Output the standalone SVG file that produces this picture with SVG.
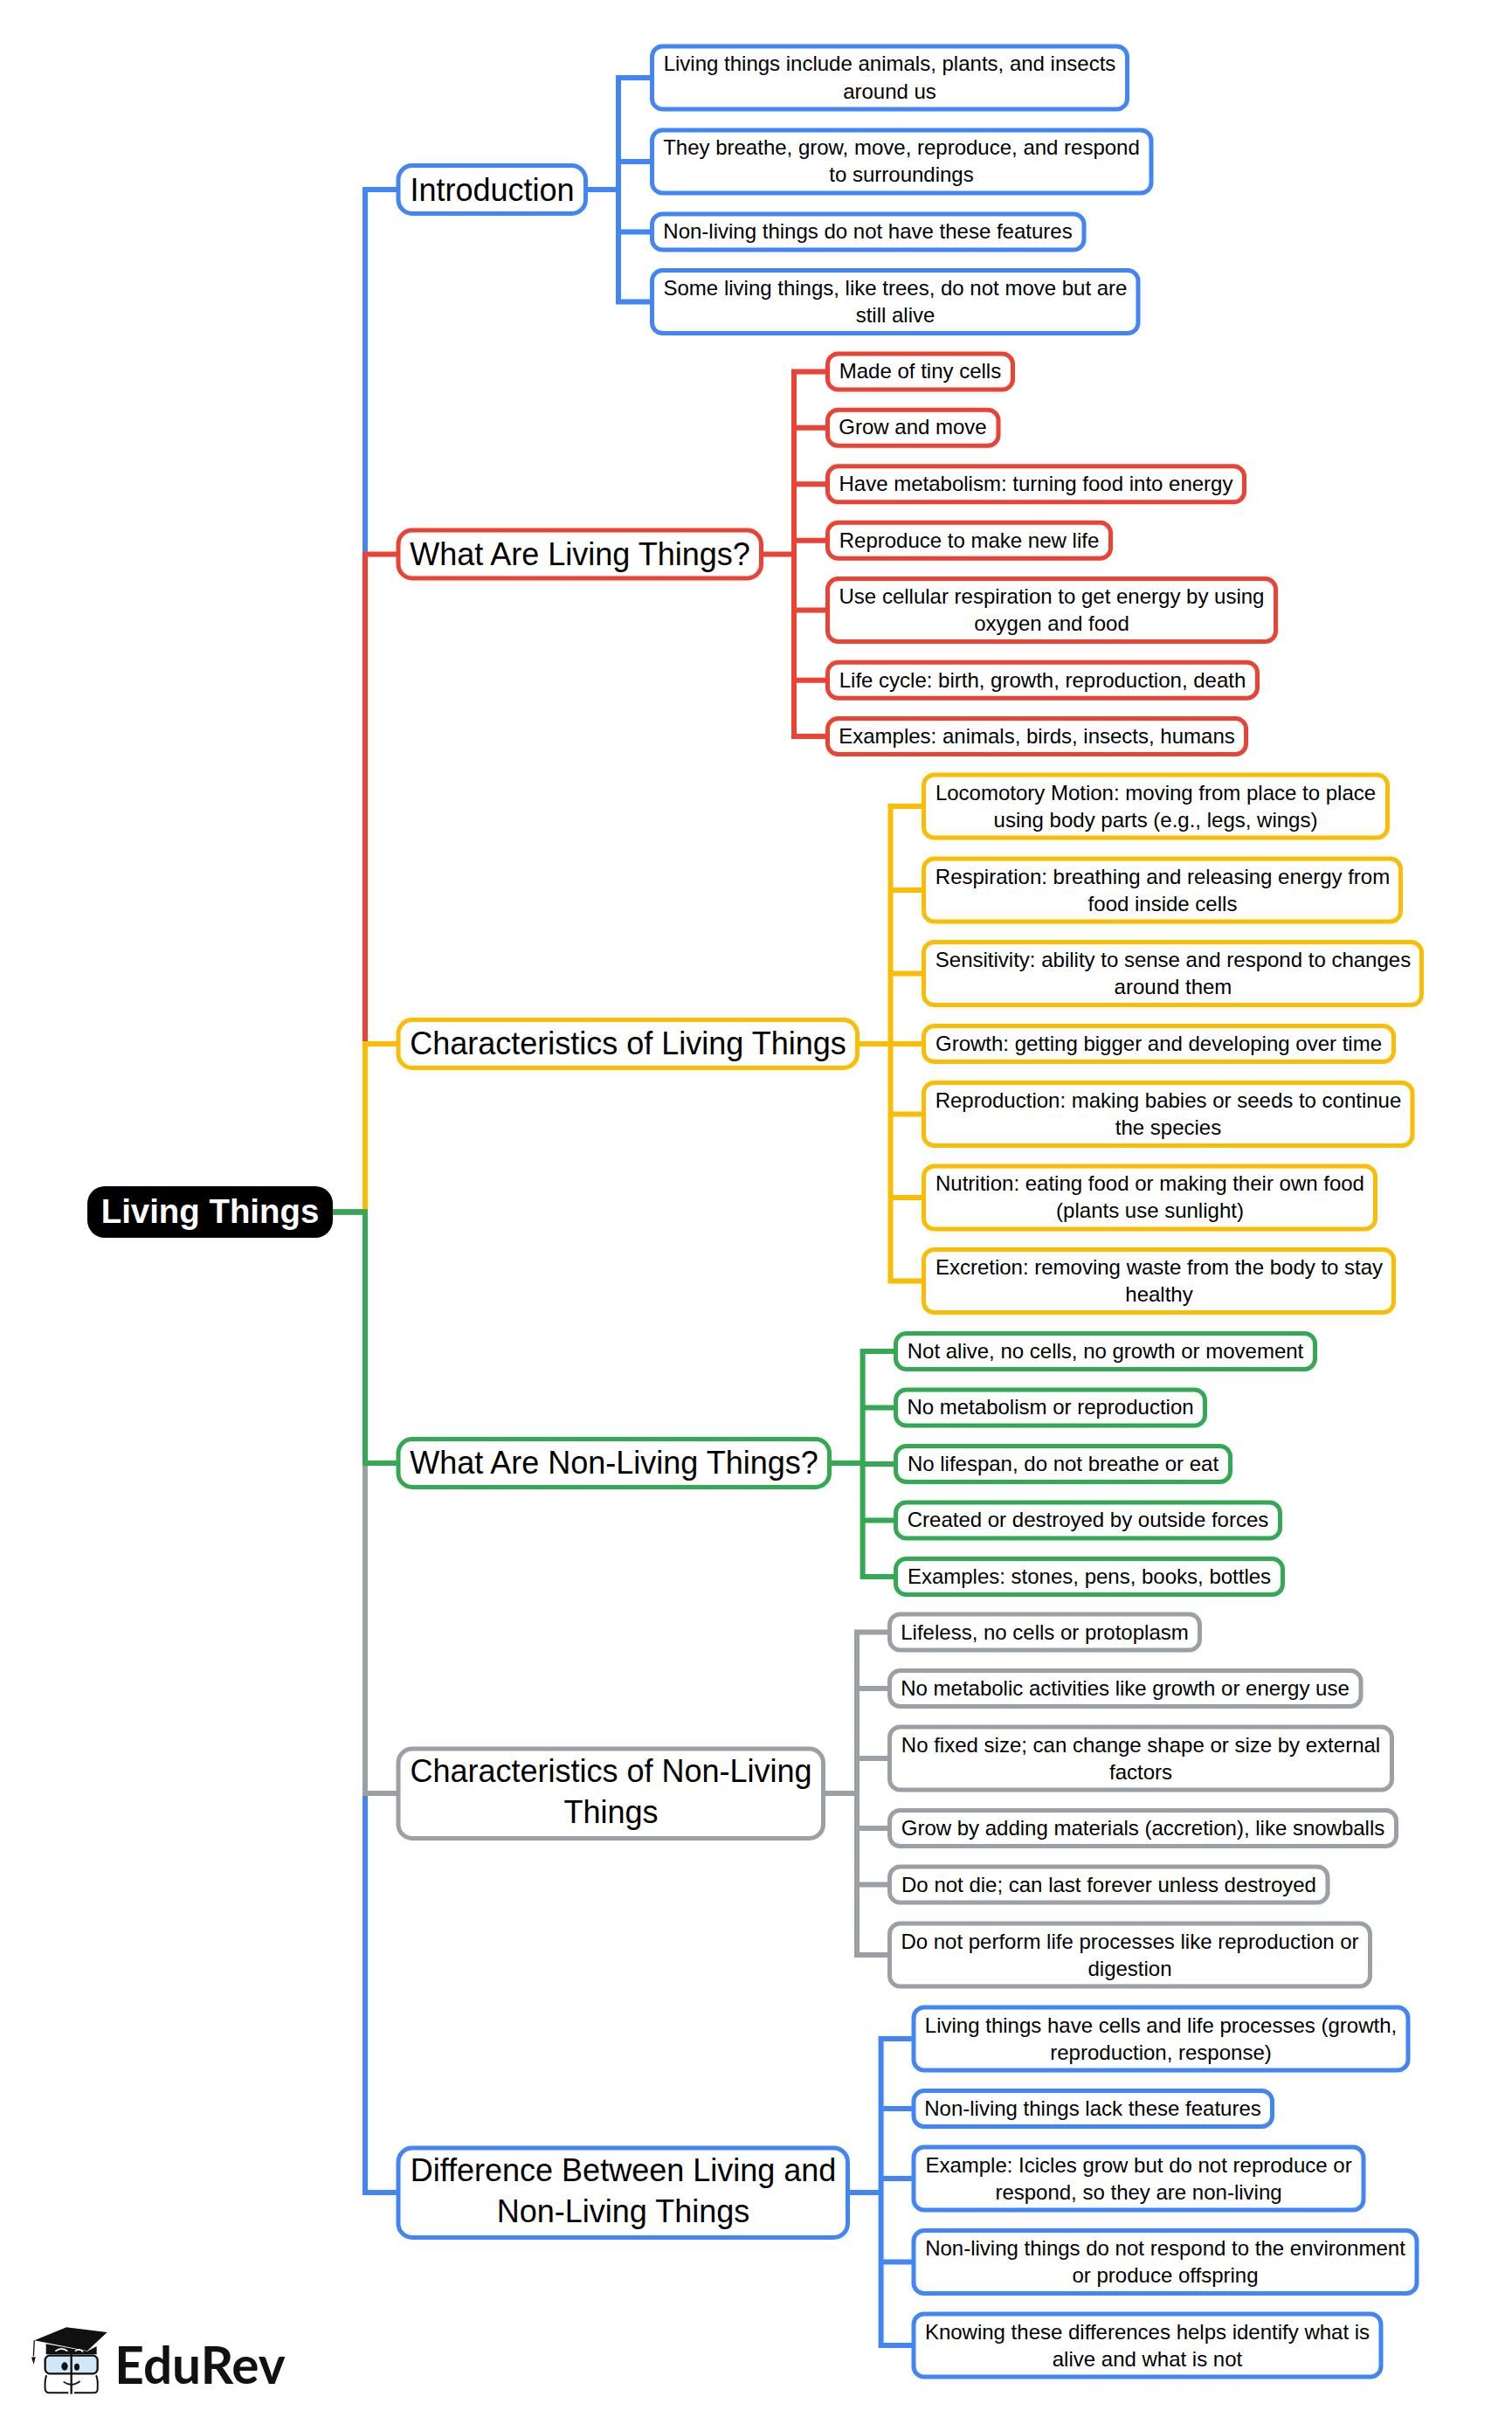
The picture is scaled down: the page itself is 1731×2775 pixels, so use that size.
<svg xmlns="http://www.w3.org/2000/svg" width="1731" height="2775" viewBox="0 0 1731 2775">
<style>
text{font-family:"Liberation Sans",Arial,sans-serif;fill:#000;text-anchor:middle}
.l text{font-size:24px}
.m text{font-size:36px}
rect{fill:#fff;stroke-width:5}
.l rect{rx:12px;ry:12px}
.m rect{rx:16px;ry:16px}
.c path{fill:none;stroke-width:6;stroke-linejoin:miter}
.B rect{stroke:#4285F4}.R rect{stroke:#EA4335}.Y rect{stroke:#FBBC04}.G rect{stroke:#34A853}.A rect{stroke:#9AA0A6}
path.B{stroke:#4285F4}path.R{stroke:#EA4335}path.Y{stroke:#FBBC04}path.G{stroke:#34A853}path.A{stroke:#9AA0A6}
</style>
<rect width="1731" height="2775" style="fill:#fff;stroke:none"/>
<g id="connectors" class="c">
<path class="B" d="M381 1387.5H418V217H456"/>
<path class="R" d="M381 1387.5H418V634.5H456"/>
<path class="Y" d="M381 1387.5H418V1195H456"/>
<path class="B" d="M381 1387.5H418V2510H456"/>
<path class="A" d="M381 1387.5H418V2053H456"/>
<path class="G" d="M381 1387.5H418V1675H456"/>
<path class="B" d="M671 217H708M746 89H708V345.5H746M708 185H746M708 265.5H746"/>
<path class="R" d="M872 634.5H909M947 425.5H909V843H947M909 489.7H947M909 554.3H947M909 618.7H947M909 698.6H947M909 778.7H947"/>
<path class="Y" d="M982 1195H1019.5M1058 923H1019.5V1466.5H1058M1019.5 1019H1058M1019.5 1114.5H1058M1019.5 1195H1058M1019.5 1275.5H1058M1019.5 1371H1058"/>
<path class="G" d="M950 1675H987.6M1025 1547H987.6V1805H1025M987.6 1611.5H1025M987.6 1676H1025M987.6 1740.5H1025"/>
<path class="A" d="M943 2053H981M1018 1868.5H981V2238H1018M981 1933H1018M981 2013H1018M981 2093H1018M981 2157.5H1018"/>
<path class="B" d="M971 2510H1008.6M1046 2334H1008.6V2685H1046M1008.6 2414H1046M1008.6 2494H1046M1008.6 2589.5H1046"/>
</g>
<g id="root"><rect x="100" y="1358" width="281" height="59" rx="20" ry="20" style="fill:#000;stroke:none"/><text x="240.5" y="1400" style="font-size:38.4px;font-weight:bold;fill:#fff">Living Things</text></g>

<g id="intro" class="m B"><rect x="456" y="189.5" width="214.5" height="55"/><text x="563.5" y="229.5">Introduction</text></g>
<g id="living" class="m R"><rect x="456" y="607" width="415.5" height="55"/><text x="664" y="646.5">What Are Living Things?</text></g>
<g id="chars" class="m Y"><rect x="456" y="1167.5" width="525.5" height="55"/><text x="719" y="1207">Characteristics of Living Things</text></g>
<g id="nonliving" class="m G"><rect x="456" y="1647.5" width="493.5" height="55"/><text x="703" y="1687">What Are Non-Living Things?</text></g>
<g id="charsnon" class="m A"><rect x="456" y="2002" width="486.5" height="102.5"/><text x="699.5" y="2040">Characteristics of Non-Living</text><text x="699.5" y="2087">Things</text></g>
<g id="difference" class="m B"><rect x="456" y="2459" width="514.5" height="102.5"/><text x="713.5" y="2497">Difference Between Living and</text><text x="713.5" y="2544">Non-Living Things</text></g>

<g id="b1" class="l B"><rect x="746.5" y="53" width="544" height="72"/><text x="1018.5" y="81">Living things include animals, plants, and insects</text><text x="1018.5" y="112.5">around us</text></g>
<g id="b2" class="l B"><rect x="746.5" y="149" width="571.5" height="72"/><text x="1032" y="177">They breathe, grow, move, reproduce, and respond</text><text x="1032" y="208">to surroundings</text></g>
<g id="b3" class="l B"><rect x="746.5" y="245" width="494.5" height="41"/><text x="993.5" y="273">Non-living things do not have these features</text></g>
<g id="b4" class="l B"><rect x="746.5" y="309.5" width="556.5" height="72"/><text x="1025" y="337.5">Some living things, like trees, do not move but are</text><text x="1025" y="368.5">still alive</text></g>

<g id="r1" class="l R"><rect x="947.5" y="405" width="212" height="41"/><text x="1053.5" y="433">Made of tiny cells</text></g>
<g id="r2" class="l R"><rect x="947.5" y="469.2" width="195.5" height="41"/><text x="1045" y="497.2">Grow and move</text></g>
<g id="r3" class="l R"><rect x="947.5" y="533.8" width="477" height="41"/><text x="1186" y="562">Have metabolism: turning food into energy</text></g>
<g id="r4" class="l R"><rect x="947.5" y="598.2" width="324" height="41"/><text x="1109.5" y="626.5">Reproduce to make new life</text></g>
<g id="r5" class="l R"><rect x="947.5" y="662.6" width="513" height="72"/><text x="1204" y="691">Use cellular respiration to get energy by using</text><text x="1204" y="722">oxygen and food</text></g>
<g id="r6" class="l R"><rect x="947.5" y="758.2" width="492" height="41"/><text x="1193.5" y="786.5">Life cycle: birth, growth, reproduction, death</text></g>
<g id="r7" class="l R"><rect x="947.5" y="822.5" width="479" height="41"/><text x="1187" y="851">Examples: animals, birds, insects, humans</text></g>

<g id="y1" class="l Y"><rect x="1057.5" y="887" width="531" height="72"/><text x="1323" y="915.5">Locomotory Motion: moving from place to place</text><text x="1323" y="946.5">using body parts (e.g., legs, wings)</text></g>
<g id="y2" class="l Y"><rect x="1057.5" y="983" width="546" height="72"/><text x="1331" y="1011.5">Respiration: breathing and releasing energy from</text><text x="1331" y="1042.5">food inside cells</text></g>
<g id="y3" class="l Y"><rect x="1057.5" y="1078.5" width="570" height="72"/><text x="1343" y="1107">Sensitivity: ability to sense and respond to changes</text><text x="1343" y="1138">around them</text></g>
<g id="y4" class="l Y"><rect x="1057.5" y="1174.5" width="538" height="41"/><text x="1326.5" y="1203">Growth: getting bigger and developing over time</text></g>
<g id="y5" class="l Y"><rect x="1057.5" y="1239.5" width="559.5" height="72"/><text x="1337.5" y="1268">Reproduction: making babies or seeds to continue</text><text x="1337.5" y="1299">the species</text></g>
<g id="y6" class="l Y"><rect x="1057.5" y="1335" width="517" height="72"/><text x="1316.5" y="1363">Nutrition: eating food or making their own food</text><text x="1316.5" y="1394">(plants use sunlight)</text></g>
<g id="y7" class="l Y"><rect x="1057.5" y="1430.5" width="538" height="72"/><text x="1327" y="1459">Excretion: removing waste from the body to stay</text><text x="1327" y="1490">healthy</text></g>

<g id="g1" class="l G"><rect x="1025.5" y="1526.5" width="480" height="41"/><text x="1265.5" y="1554.5">Not alive, no cells, no growth or movement</text></g>
<g id="g2" class="l G"><rect x="1025.5" y="1591" width="354" height="41"/><text x="1202.5" y="1619">No metabolism or reproduction</text></g>
<g id="g3" class="l G"><rect x="1025.5" y="1655.5" width="383" height="41"/><text x="1217" y="1683.5">No lifespan, do not breathe or eat</text></g>
<g id="g4" class="l G"><rect x="1025.5" y="1720" width="440" height="41"/><text x="1245.5" y="1748">Created or destroyed by outside forces</text></g>
<g id="g5" class="l G"><rect x="1025.5" y="1784.5" width="443" height="41"/><text x="1247" y="1813">Examples: stones, pens, books, bottles</text></g>

<g id="a1" class="l A"><rect x="1018.5" y="1848" width="355" height="41"/><text x="1196" y="1876.5">Lifeless, no cells or protoplasm</text></g>
<g id="a2" class="l A"><rect x="1018.5" y="1912.5" width="539.5" height="41"/><text x="1288" y="1941">No metabolic activities like growth or energy use</text></g>
<g id="a3" class="l A"><rect x="1018.5" y="1977" width="575" height="72"/><text x="1306" y="2005.5">No fixed size; can change shape or size by external</text><text x="1306" y="2036.5">factors</text></g>
<g id="a4" class="l A"><rect x="1018.5" y="2072.5" width="580" height="41"/><text x="1308.5" y="2101">Grow by adding materials (accretion), like snowballs</text></g>
<g id="a5" class="l A"><rect x="1018.5" y="2137" width="501.5" height="41"/><text x="1269.5" y="2165.5">Do not die; can last forever unless destroyed</text></g>
<g id="a6" class="l A"><rect x="1018.5" y="2202" width="550" height="72"/><text x="1293.5" y="2230.5">Do not perform life processes like reproduction or</text><text x="1293.5" y="2261.5">digestion</text></g>

<g id="d1" class="l B"><rect x="1046" y="2298" width="566" height="72"/><text x="1329" y="2326.5">Living things have cells and life processes (growth,</text><text x="1329" y="2357.5">reproduction, response)</text></g>
<g id="d2" class="l B"><rect x="1046" y="2393.5" width="410.5" height="41"/><text x="1251" y="2422">Non-living things lack these features</text></g>
<g id="d3" class="l B"><rect x="1046" y="2458" width="515" height="72"/><text x="1303.5" y="2486.5">Example: Icicles grow but do not reproduce or</text><text x="1303.5" y="2517.5">respond, so they are non-living</text></g>
<g id="d4" class="l B"><rect x="1046" y="2553.5" width="576" height="72"/><text x="1334" y="2582">Non-living things do not respond to the environment</text><text x="1334" y="2613">or produce offspring</text></g>
<g id="d5" class="l B"><rect x="1046" y="2649" width="535" height="72"/><text x="1313.5" y="2677.5">Knowing these differences helps identify what is</text><text x="1313.5" y="2708.5">alive and what is not</text></g>

<g id="logo">
<g transform="translate(0,2660) scale(.33333)">
<path d="M118 58L228 13L368 30L300 94L190 72Z" style="fill:#111"/>
<path d="M158 70L300 95L332 78V106H158Z" style="fill:#111"/>
<path d="M190 95Q212 78 232 95M258 95Q272 84 285 97" style="fill:none;stroke:#fff;stroke-width:5"/>
<path d="M118 58L115 112" style="fill:none;stroke:#111;stroke-width:4"/>
<path d="M108 116L122 114L116 140Z" style="fill:#111"/>
<rect x="155" y="110" width="180" height="62" rx="16" ry="16" style="fill:#cfe8f8;stroke:#111;stroke-width:7"/>
<path d="M160 178Q153 190 155 225Q156 238 170 238H235M255 238H322Q335 238 335 225Q337 190 330 178" style="fill:none;stroke:#111;stroke-width:6"/>
<path d="M245 105V242" style="fill:none;stroke:#111;stroke-width:7"/>
<ellipse cx="222" cy="147" rx="11" ry="14" style="fill:#111"/>
<ellipse cx="264" cy="149" rx="9" ry="12" style="fill:#111"/>
<path d="M218 200Q245 220 275 198" style="fill:none;stroke:#111;stroke-width:5"/>
</g>
<text x="229" y="2729" style="font-family:Lato,'Liberation Sans',sans-serif;font-size:58.5px;font-weight:bold;fill:#111">EduRev</text>
</g>
</svg>
